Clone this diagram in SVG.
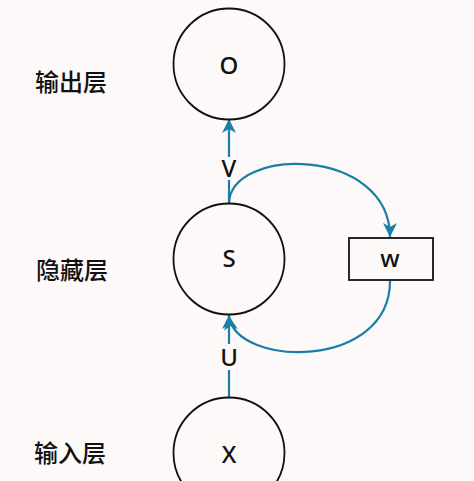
<svg xmlns="http://www.w3.org/2000/svg" width="474" height="481" viewBox="0 0 474 481">
<defs>
<style>
.node{fill:none;stroke:#111;stroke-width:1.8}
.lbl{font-family:"Noto Sans","Open Sans","Liberation Sans",sans-serif;font-size:24px;font-weight:500;fill:#111;text-anchor:middle}
.cjk{font-family:"Noto Sans CJK SC","Noto Sans",sans-serif;font-size:24px;font-weight:500;fill:#111}
.conn{fill:none;stroke:#1a7fa7;stroke-width:2.2}
</style>
<marker id="arr" markerUnits="userSpaceOnUse" markerWidth="14" markerHeight="14" viewBox="0 0 14 14" refX="14" refY="7" orient="auto">
<path d="M0,0 L14,7 L0,14 L4,7 z" fill="#1a7fa7"/>
</marker>
</defs>
<rect width="474" height="481" fill="#fdf9f9"/>
<text class="cjk" x="35" y="91">输出层</text>
<text class="cjk" x="36" y="279">隐藏层</text>
<text class="cjk" x="34" y="462">输入层</text>
<g id="connectors">
<path class="conn" d="M229,204 V180 M229,157 V119" marker-end="url(#arr)"/>
<path class="conn" d="M229,398 V370 M229,344 V315" marker-end="url(#arr)"/>
<path class="conn" d="M229,204 C229,146 390,146 390,237" marker-end="url(#arr)"/>
<path class="conn" d="M390,281 C390,370 236,368 229,316" marker-end="url(#arr)"/>
<text class="lbl" x="229" y="177">V</text>
<text class="lbl" x="229" y="366">U</text>
</g>
<g id="node-O">
<circle class="node" cx="229" cy="64" r="55.5"/>
<text class="lbl" x="229" y="74">O</text>
</g>
<g id="node-S">
<circle class="node" cx="229" cy="259" r="55.5"/>
<text class="lbl" x="229" y="267">S</text>
</g>
<g id="node-X">
<circle class="node" cx="229" cy="453" r="55.5"/>
<text class="lbl" x="229" y="463">X</text>
</g>
<g id="node-w">
<rect class="node" x="349" y="238" width="84" height="42"/>
<text class="lbl" x="390" y="267">w</text>
</g>
</svg>
